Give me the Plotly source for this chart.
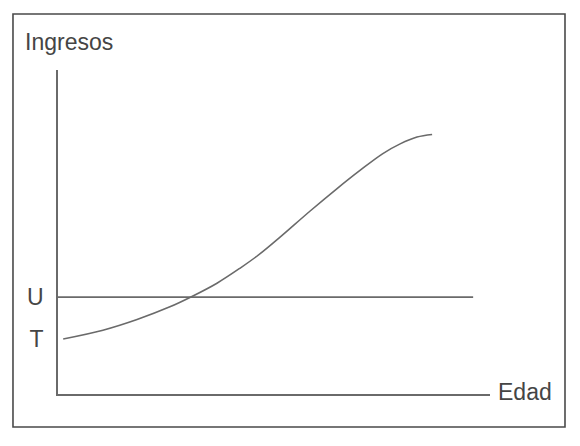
import plotly.graph_objects as go

# Data (Edad vs Ingresos, arbitrary units 0-100)
edad = [1.2, 10.4, 18.3, 25.9, 31.0, 36.8, 42.1, 46.8, 51.4, 58.3, 64.6, 69.9, 75.2, 79.2, 83.1, 86.6]
ingresos = [17.0, 19.7, 23.0, 26.9, 30.1, 34.2, 38.8, 43.3, 48.4, 56.4, 63.4, 69.0, 74.2, 77.2, 79.3, 80.1]
u_level = 29.9
t_level = 17.0
u_line_x = [0, 96.1]
tick_vals = [u_level, t_level]
tick_text = ["U", "T"]

line_color = "#6a6a6a"
text_color = "#454545"
font_fam = "Liberation Sans, Arial, sans-serif"
fs = 23

fig = go.Figure()
fig.add_trace(go.Scatter(x=edad, y=ingresos, mode="lines",
                         line=dict(color=line_color, width=1.6, shape="spline", smoothing=1.0),
                         hoverinfo="skip"))
fig.add_trace(go.Scatter(x=u_line_x, y=[u_level, u_level], mode="lines", line=dict(color=line_color, width=1.6),
                         hoverinfo="skip"))

fig.update_layout(
    width=580, height=446,
    margin=dict(l=50, r=98, t=62, b=60),
    paper_bgcolor="white", plot_bgcolor="white",
    showlegend=False,
    font=dict(family=font_fam, size=fs, color=text_color),
    xaxis=dict(range=[0, 100], showgrid=False, zeroline=False, showline=True, linecolor=line_color, linewidth=1.6,
               showticklabels=False, ticks=""),
    yaxis=dict(range=[0, 100], showgrid=False, zeroline=False, showline=True, linecolor=line_color, linewidth=1.6,
               tickvals=tick_vals, ticktext=tick_text, ticks="", ticklabelstandoff=8,
               tickfont=dict(size=fs, color=text_color, family=font_fam)),
    shapes=[dict(type="rect", xref="paper", yref="paper", x0=-0.1042, x1=1.1736, y0=-0.1019, y1=1.1728,
                 line=dict(color="#4a4a4a", width=1.6), fillcolor="rgba(0,0,0,0)", layer="below")],
    annotations=[
        dict(text="Ingresos", xref="paper", yref="paper", x=-0.0810, y=1.086, xanchor="left", yanchor="middle",
             showarrow=False, font=dict(size=fs, color=text_color, family=font_fam)),
        dict(text="Edad", xref="paper", yref="paper", x=1.013, y=0.006, xanchor="left", yanchor="middle",
             showarrow=False, font=dict(size=fs, color=text_color, family=font_fam)),
    ],
)

fig.write_html("out.html")
